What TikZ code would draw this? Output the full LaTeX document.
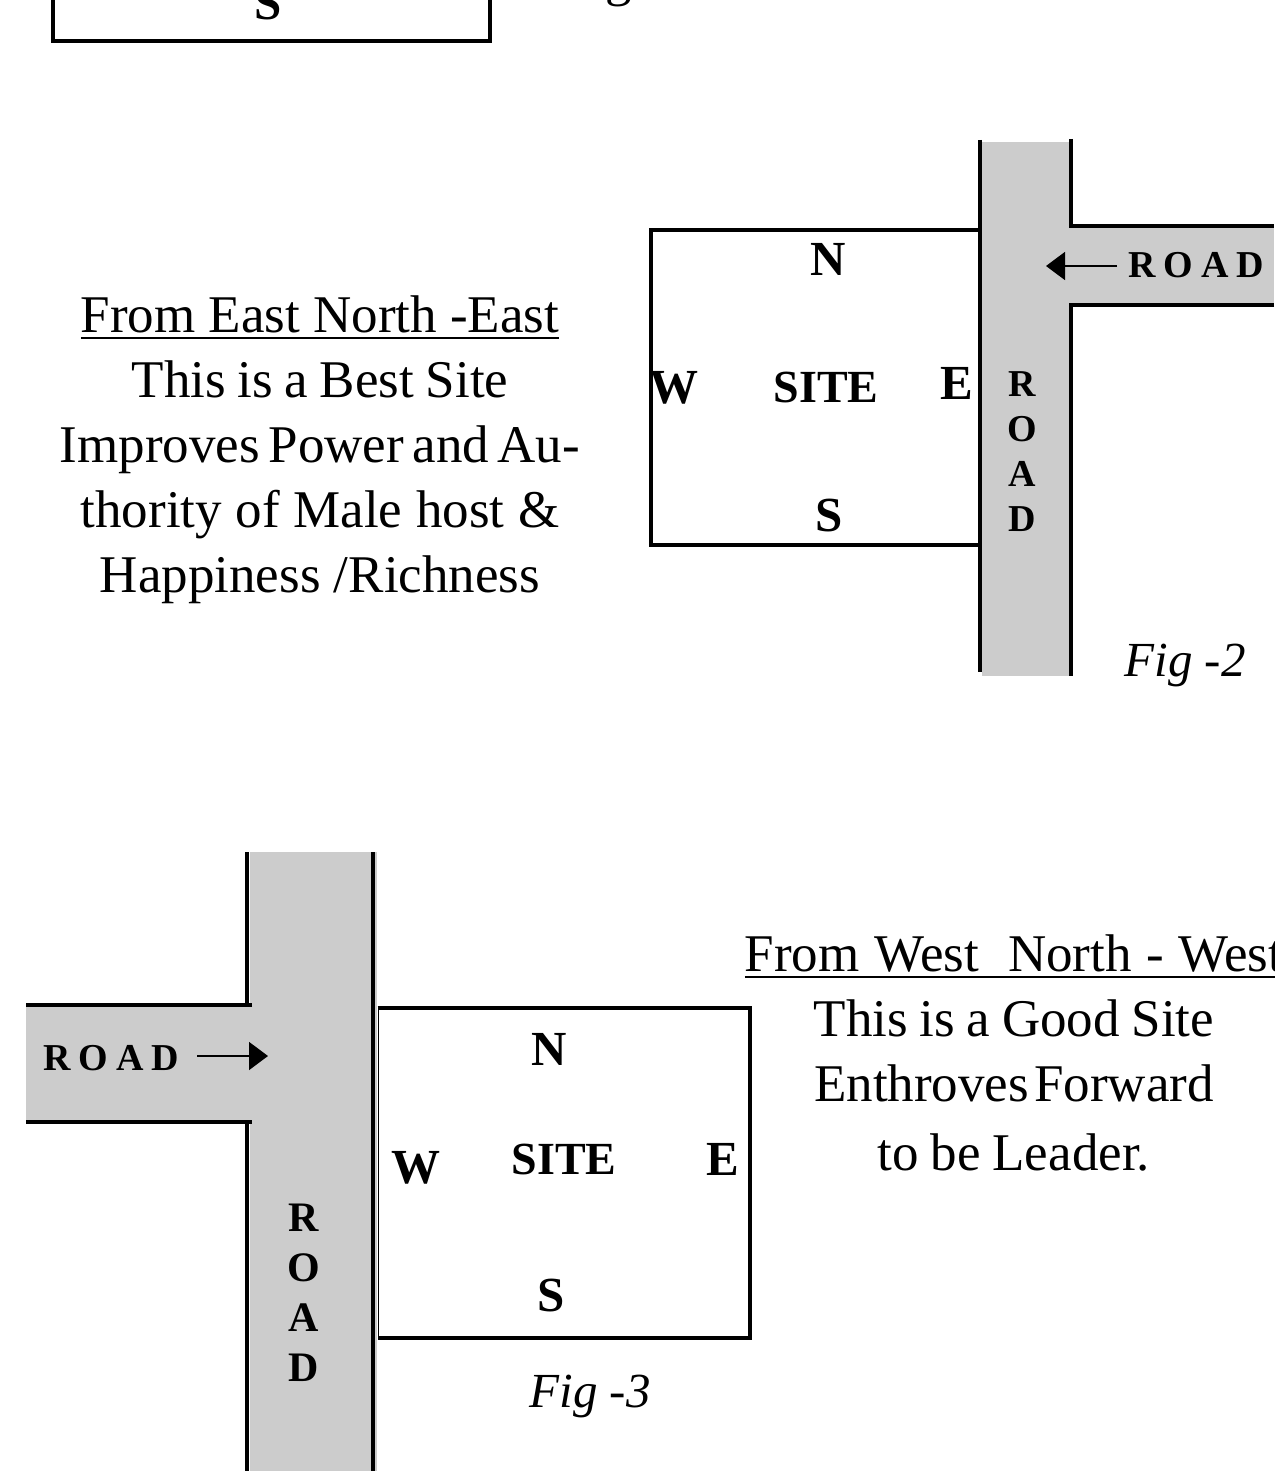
\documentclass[tikz,border=0pt]{standalone}
\usepackage{fontspec}
\setmainfont{Liberation Serif}
\usetikzlibrary{arrows.meta}
\newcommand{\headline}[1]{\leavevmode\setbox0=\hbox{#1}\rlap{\rule[-3.5pt]{\wd0}{1pt}}\box0}
\newcommand{\spaced}[2]{{\spaceskip=#1\relax #2}}
\definecolor{roadgray}{HTML}{CCCCCC}
\tikzset{
  wall/.style={line width=2pt},
  thinwall/.style={line width=0.8pt},
  roadarrow/.style={line width=0.8pt, -{Triangle[length=9.5pt, width=14pt]}},
  sitelabel/.style={inner sep=0pt, anchor=base, font=\fontsize{24.5}{24.5}\selectfont\bfseries},
  namelabel/.style={inner sep=0pt, anchor=base, font=\fontsize{23}{23}\selectfont\bfseries},
  roadlabel/.style={inner sep=0pt, anchor=base, font=\fontsize{19}{19}\selectfont\bfseries},
  bodytext/.style={inner sep=0pt, anchor=north, align=center, font=\fontsize{26.5}{32.5}\selectfont},
  figlabel/.style={inner sep=0pt, anchor=base, font=\fontsize{24.5}{24.5}\selectfont\itshape},
}
\begin{document}
\begin{tikzpicture}[x=0.5pt, y=-0.5pt]
  \useasboundingbox (0,0) rectangle (1274,1471);

  % top piece
  \draw[wall] (53,-10) -- (53,41) -- (490,41) -- (490,-10);
  \node[sitelabel] (sone) at (268,20) {S};
  \node[inner sep=0pt, anchor=base, font=\fontsize{26.5}{32.5}\selectfont] (gone) at (619,-4) {g};

  % Fig 2
  \fill[roadgray] (982,142) rectangle (1071,676);
  \fill[roadgray] (1071,227) rectangle (1274,304);
  \draw[wall] (980,140) -- (980,672);
  \draw[wall] (1071,139) -- (1071,226) -- (1274,226);
  \draw[wall] (1274,305) -- (1071,305) -- (1071,676);
  \draw[wall] (980,230) -- (651,230) -- (651,545) -- (980,545);
  \coordinate (arrowtwostart) at (1117,266);
  \coordinate (arrowtwoend) at (1046,266);
  \draw[roadarrow] (arrowtwostart) -- (arrowtwoend);
  \node[roadlabel, anchor=base west] (roadtwoh) at (1128,278) {\spaced{4pt}{R O A D}};
  \node[sitelabel] (ntwo) at (828,275) {N};
  \node[sitelabel] (wtwo) at (674,403) {W};
  \node[namelabel] (sitetwo) at (826,402) {SITE};
  \node[sitelabel] (etwo) at (957,399) {E};
  \node[sitelabel] (stwo) at (829,531) {S};
  \node[roadlabel, anchor=north, align=center, font=\fontsize{19}{22.5}\selectfont\bfseries] (roadtwov) at (1022,371) {R\\O\\A\\D};
  \node[figlabel] (figtwo) at (1185,676) {Fig -2};
  \node[bodytext] (texttwo) at (320,295) {\headline{From East North -East}\\\spaced{5.85pt}{This is a Best Site}\\\spaced{4.3pt}{Improves Power and Au-}\\\spaced{6.85pt}{thority of Male host \&}\\Happiness /Richness};

  % Fig 3
  \fill[roadgray] (250,852) rectangle (377,1471);
  \fill[roadgray] (26,1007) rectangle (250,1121);
  \draw[wall] (247,852) -- (247,1005) -- (26,1005);
  \draw[wall] (26,1122) -- (252,1122);
  \draw[wall] (252,1005) -- (247,1005);
  \draw[wall] (247,1122) -- (247,1471);
  \draw[wall] (373,852) -- (373,1471);
  \draw[thinwall] (378.5,1007) -- (378.5,1338);
  \draw[wall] (377.7,1008) -- (750,1008) -- (750,1338) -- (377.7,1338);
  \coordinate (arrowthreestart) at (197,1056);
  \coordinate (arrowthreeend) at (268,1056);
  \draw[roadarrow] (arrowthreestart) -- (arrowthreeend);
  \node[roadlabel, anchor=base west] (roadthreeh) at (43,1070) {\spaced{4pt}{R O A D}};
  \node[sitelabel] (nthree) at (549,1065) {N};
  \node[sitelabel] (wthree) at (416,1183) {W};
  \node[namelabel] (sitethree) at (564,1174) {SITE};
  \node[sitelabel] (ethree) at (723,1175) {E};
  \node[sitelabel] (sthree) at (551,1311) {S};
  \node[roadlabel, anchor=north, align=center, font=\fontsize{21}{25}\selectfont\bfseries] (roadthreev) at (304,1204) {R\\O\\A\\D};
  \node[figlabel] (figthree) at (590,1407) {Fig -3};
  \node[bodytext] (textthree) at (1014,934) {\headline{\spaced{7.3pt}{From West\ \ North - West}}\\\spaced{5.85pt}{This is a Good Site}\\\spaced{2.6pt}{Enthroves Forward}\\[2pt]\spaced{5.85pt}{to be Leader.}};
\end{tikzpicture}
\end{document}
